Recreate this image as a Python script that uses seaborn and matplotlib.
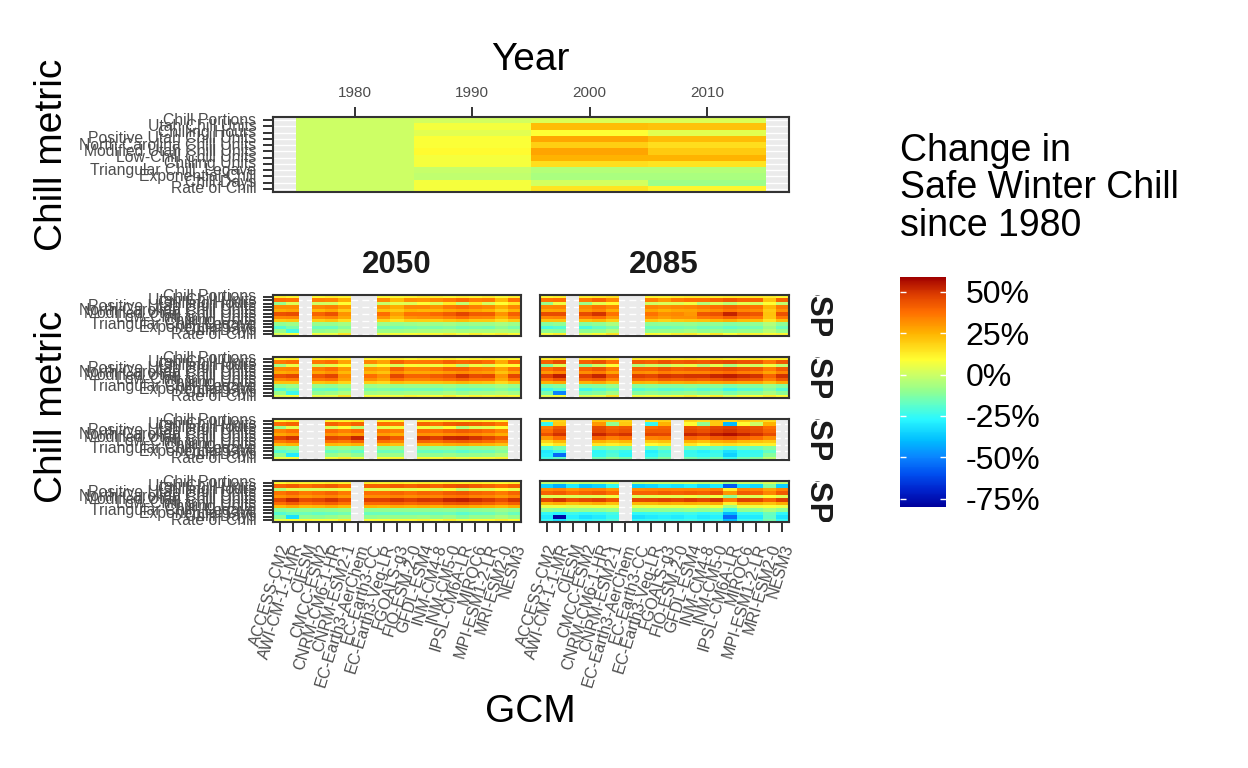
import numpy as np
import pandas as pd
import matplotlib
matplotlib.use("Agg")
import matplotlib.pyplot as plt
import seaborn as sns
from matplotlib.colors import LinearSegmentedColormap, Normalize
from matplotlib.cm import ScalarMappable
from matplotlib.transforms import ScaledTranslation

plt.rcParams['font.family'] = ['Liberation Sans', 'DejaVu Sans']

N = np.nan

metrics = ["Chill Portions", "Utah Chill Units", "Chilling Hours",
           "Positive Utah Chill Units", "North Carolina Chill Units",
           "Modified Utah Chill Units", "Low-Chill Chill Units", "Chilling Units",
           "Triangular Chill_Legave", "Exponential Chill", "Chill Days",
           "Rate of Chill"]

gcms = ["ACCESS-CM2", "AWI-CM-1-1-MR", "CIESM", "CMCC-ESM2", "CNRM-CM6-1-HR",
        "CNRM-ESM2-1", "EC-Earth3-AerChem", "EC-Earth3-CC", "EC-Earth3-Veg-LR",
        "FGOALS-g3", "FIO-ESM-2-0", "GFDL-ESM4", "INM-CM4-8", "INM-CM5-0",
        "IPSL-CM6A-LR", "MIROC6", "MPI-ESM1-2-LR", "MRI-ESM2-0", "NESM3"]

hist_years = [1980, 1990, 2000, 2010]
hist_1980 = [0, 0, 0, 0, 0, 0, 0, 0, 0, 0, 0, 0]
hist_1990 = [1, 7, 4, 8, 8, 10, 7, 7, -1, -2, 7, 7]
hist_2000 = [3, 23, 9, 27, 19, 28, 25, 16, -4, -6, 1, 15]
hist_2010 = [3, 22, 4, 23, 16, 20, 25, 15, -4, -6, -8, 11]

scenarios = ["SSP126", "SSP245", "SSP370", "SSP585"]
periods = ["2050", "2085"]

ssp126_2050 = [
    [12, 10, N, 9, 11, 10, N, N, 9, 8, 10, 12, 11, 9, 11, 10, 12, 8, 11],
    [38, 37, N, 35, 34, 26, N, N, 33, 24, 32, 31, 33, 36, 39, 35, 36, 24, 37],
    [-9, 3, N, 0, 1, 9, N, N, -1, 4, 3, 8, 3, 13, -2, 14, 1, 9, 14],
    [32, 32, N, 33, 35, 29, N, N, 30, 26, 33, 33, 31, 36, 38, 35, 33, 26, 33],
    [26, 28, N, 24, 27, 20, N, N, 22, 20, 25, 24, 24, 27, 29, 27, 25, 19, 25],
    [44, 45, N, 40, 44, 31, N, N, 38, 29, 37, 37, 39, 42, 47, 42, 42, 31, 41],
    [33, 34, N, 32, 34, 27, N, N, 31, 24, 31, 32, 32, 35, 38, 34, 33, 25, 34],
    [20, 21, N, 19, 21, 16, N, N, 18, 15, 19, 19, 19, 21, 23, 20, 20, 16, 20],
    [-10, -8, N, -9, -9, -7, N, N, -8, -9, -8, -7, -8, -7, -9, -8, -8, -6, -8],
    [-20, -14, N, -16, -17, -12, N, N, -15, -15, -14, -13, -14, -13, -15, -14, -15, -11, -14],
    [-9, -22, N, -10, -8, -4, N, N, -8, -8, -7, -6, -6, -5, -7, -6, -6, -4, -6],
    [4, 9, N, 7, 6, 14, N, N, 6, 8, 9, 10, 10, 12, 8, 12, 10, 12, 10],
]
ssp126_2085 = [
    [10, 11, N, 11, 12, 14, N, N, 10, 10, 11, 12, 12, 11, 12, 12, 12, 12, 10],
    [37, 38, N, 36, 40, 33, N, N, 35, 30, 36, 38, 38, 40, 43, 40, 40, 22, 40],
    [-9, 6, N, -8, 4, 10, N, N, 0, 2, 3, 6, -4, 2, -3, 4, 1, 9, -2],
    [33, 34, N, 33, 37, 33, N, N, 34, 32, 33, 34, 36, 38, 40, 38, 37, 24, 36],
    [27, 28, N, 30, 33, 26, N, N, 28, 25, 27, 28, 30, 32, 36, 33, 32, 20, 31],
    [45, 45, N, 45, 50, 37, N, N, 37, 32, 33, 30, 43, 44, 53, 44, 43, 22, 44],
    [33, 34, N, 36, 38, 30, N, N, 32, 29, 31, 31, 36, 37, 41, 37, 36, 21, 36],
    [22, 22, N, 22, 24, 19, N, N, 20, 18, 20, 21, 22, 24, 26, 23, 23, 15, 23],
    [-12, -10, N, -12, -10, -6, N, N, -11, -10, -10, -9, -11, -10, -12, -11, -10, -4, -11],
    [-22, -20, N, -22, -18, -14, N, N, -16, -16, -15, -14, -16, -15, -18, -16, -15, -8, -16],
    [-10, -12, N, -11, -10, -5, N, N, -10, -9, -9, -7, -10, -9, -11, -9, -9, -3, -9],
    [8, 12, N, 5, 10, 15, N, N, 10, 9, 12, 13, 10, 14, 9, 12, 11, 10, 11],
]
ssp245_2050 = [
    [10, 11, N, 11, 12, 11, N, 10, 11, 12, 10, 12, 11, 12, 10, 11, 12, 11, 10],
    [36, 38, N, 36, 38, 28, N, 33, 28, 40, 36, 36, 37, 41, 39, 40, 38, 26, 39],
    [-7, 5, N, 0, 4, 9, N, 3, 9, 2, 8, 7, 6, 12, -2, 6, 3, 10, 9],
    [33, 34, N, 35, 38, 30, N, 30, 28, 40, 34, 34, 36, 40, 40, 36, 35, 28, 36],
    [26, 28, N, 28, 31, 24, N, 24, 22, 32, 27, 27, 28, 30, 32, 30, 29, 22, 28],
    [44, 46, N, 43, 47, 32, N, 38, 32, 46, 40, 40, 42, 44, 50, 45, 46, 31, 46],
    [34, 36, N, 36, 38, 29, N, 32, 28, 38, 34, 34, 36, 38, 40, 37, 37, 27, 37],
    [22, 22, N, 21, 23, 18, N, 19, 17, 23, 21, 21, 22, 23, 25, 23, 22, 17, 22],
    [-10, -8, N, -9, -10, -7, N, -8, -7, -9, -8, -8, -9, -8, -10, -9, -9, -7, -9],
    [-20, -15, N, -17, -18, -13, N, -14, -13, -16, -15, -15, -16, -14, -17, -16, -15, -12, -15],
    [-8, -24, N, -10, -8, -5, N, -7, -6, -8, -7, -7, -8, -6, -9, -7, -7, -5, -7],
    [5, 9, N, 6, 6, 14, N, 8, 9, 7, 11, 10, 9, 12, 8, 11, 10, 11, 10],
]
ssp245_2085 = [
    [12, 13, N, 12, 13, 12, N, 12, 12, 13, 12, 13, 12, 13, 11, 12, 13, 12, 12],
    [40, 45, N, 41, 44, 37, N, 42, 41, 44, 42, 43, 42, 45, 46, 44, 43, 36, 43],
    [-12, 2, N, -10, 0, 8, N, -4, 0, -2, 3, 5, -3, 4, -6, 3, 0, 6, -2],
    [38, 42, N, 40, 43, 36, N, 40, 40, 43, 41, 42, 42, 44, 45, 43, 42, 35, 42],
    [30, 34, N, 32, 35, 28, N, 32, 31, 35, 33, 34, 34, 36, 38, 35, 34, 28, 34],
    [48, 54, N, 48, 52, 42, N, 48, 46, 50, 49, 50, 50, 52, 54, 51, 50, 40, 50],
    [38, 43, N, 40, 42, 35, N, 40, 39, 42, 41, 42, 41, 43, 45, 43, 42, 35, 42],
    [25, 27, N, 25, 27, 22, N, 25, 24, 27, 26, 27, 26, 28, 29, 27, 27, 22, 27],
    [-14, -12, N, -13, -12, -9, N, -12, -11, -12, -12, -11, -12, -11, -14, -12, -12, -8, -12],
    [-24, -20, N, -24, -20, -16, N, -20, -18, -20, -19, -18, -20, -18, -24, -20, -19, -13, -20],
    [-14, -50, N, -14, -12, -7, N, -12, -10, -12, -11, -9, -12, -10, -14, -11, -11, -6, -11],
    [5, 8, N, 4, 6, 14, N, 7, 8, 7, 10, 12, 8, 12, 4, 10, 9, 12, 9],
]
ssp370_2050 = [
    [10, 12, N, N, 11, 11, 12, N, 11, 10, N, 12, 11, 12, 11, 12, 11, 10, N],
    [38, 40, N, N, 40, 37, 40, N, 38, 36, N, 40, 38, 42, 43, 42, 40, 36, N],
    [-8, 4, N, N, 2, 8, -2, N, 4, 6, N, 6, 3, 8, -4, 2, 4, 8, N],
    [34, 37, N, N, 38, 35, 38, N, 36, 34, N, 38, 37, 40, 42, 40, 38, 33, N],
    [27, 30, N, N, 31, 28, 30, N, 29, 26, N, 31, 30, 32, 34, 32, 30, 26, N],
    [46, 50, N, N, 47, 45, 52, N, 47, 42, N, 50, 48, 52, 53, 50, 47, 42, N],
    [36, 39, N, N, 38, 36, 40, N, 38, 34, N, 40, 38, 41, 42, 40, 38, 34, N],
    [23, 25, N, N, 24, 23, 25, N, 24, 22, N, 25, 24, 26, 27, 25, 24, 22, N],
    [-12, -10, N, N, -10, -9, -11, N, -10, -9, N, -11, -10, -10, -12, -11, -10, -8, N],
    [-20, -16, N, N, -17, -14, -18, N, -16, -15, N, -17, -18, -16, -19, -17, -16, -12, N],
    [-10, -30, N, N, -9, -6, -10, N, -8, -8, N, -9, -10, -8, -10, -9, -8, -5, N],
    [6, 8, N, N, 8, 12, 6, N, 9, 10, N, 10, 9, 11, 7, 10, 10, 11, N],
]
ssp370_2085 = [
    [14, 18, N, N, 20, 18, 18, N, 16, 18, N, 18, 16, 20, 18, 20, 18, 16, N],
    [-25, 20, N, N, 30, -10, 20, N, -25, 25, N, 10, -10, 20, -40, 10, 0, 25, N],
    [35, 42, N, N, 45, 40, 42, N, 38, 40, N, 44, 42, 46, 48, 45, 44, 38, N],
    [38, 45, N, N, 46, 42, 44, N, 42, 42, N, 46, 44, 48, 50, 47, 45, 40, N],
    [44, 50, N, N, 52, 48, 50, N, 47, 46, N, 52, 50, 54, 56, 53, 50, 45, N],
    [30, 38, N, N, 40, 35, 38, N, 34, 35, N, 40, 38, 42, 44, 40, 38, 32, N],
    [18, 24, N, N, 25, 22, 24, N, 20, 22, N, 25, 22, 26, 28, 24, 22, 20, N],
    [8, 14, N, N, 14, 12, 14, N, 10, 12, N, 14, 10, 15, 16, 14, 12, 12, N],
    [-20, -15, N, N, -16, -14, -15, N, -18, -14, N, -16, -18, -16, -20, -17, -16, -12, N],
    [-30, -24, N, N, -26, -22, -25, N, -28, -22, N, -25, -28, -25, -32, -26, -25, -18, N],
    [-28, -55, N, N, -25, -20, -26, N, -26, -20, N, -24, -26, -23, -35, -25, -24, -12, N],
    [-22, -18, N, N, -15, -10, -14, N, -18, -12, N, -14, -18, -14, -24, -15, -12, -2, N],
]
ssp585_2050 = [
    [10, 12, 11, 11, 12, 11, N, 12, 11, 12, 11, 12, 11, 12, 11, 12, 11, 10, 11],
    [40, 42, 38, 40, 42, 38, N, 40, 40, 42, 40, 42, 40, 43, 44, 42, 40, 38, 41],
    [-4, 4, 2, 3, 4, 6, N, 3, 4, 5, 4, 6, 3, 7, -2, 4, 4, 8, 5],
    [37, 40, 36, 38, 40, 36, N, 38, 38, 40, 38, 40, 39, 42, 43, 40, 39, 36, 40],
    [31, 34, 30, 32, 34, 30, N, 32, 32, 34, 32, 34, 33, 36, 37, 34, 33, 30, 34],
    [47, 52, 45, 47, 50, 45, N, 48, 48, 50, 48, 50, 49, 53, 54, 51, 49, 45, 50],
    [38, 42, 37, 39, 41, 37, N, 39, 39, 41, 39, 41, 40, 43, 44, 42, 40, 37, 41],
    [24, 27, 23, 24, 26, 23, N, 25, 24, 26, 25, 26, 25, 27, 28, 26, 25, 23, 26],
    [-12, -10, -10, -11, -10, -9, N, -10, -10, -10, -10, -10, -11, -10, -12, -11, -10, -8, -10],
    [-20, -17, -16, -18, -17, -15, N, -17, -17, -17, -16, -16, -17, -16, -19, -17, -16, -13, -17],
    [-12, -32, -10, -11, -9, -7, N, -10, -9, -9, -9, -8, -10, -8, -12, -9, -9, -6, -9],
    [6, 8, 10, 8, 8, 12, N, 9, 9, 10, 10, 11, 9, 12, 7, 10, 10, 12, 10],
]
ssp585_2085 = [
    [-2, -4, 0, -2, -1, 2, N, -2, 0, -1, 0, 1, -2, 0, -8, 0, -1, 4, -2],
    [-35, -42, -30, -38, -35, -25, N, -36, -34, -30, -32, -28, -34, -30, -58, -32, -34, -12, -36],
    [32, 34, 30, 33, 34, 30, N, 32, 33, 34, 33, 34, 33, 35, 12, 34, 33, 28, 34],
    [40, 42, 38, 40, 42, 38, N, 40, 40, 42, 41, 42, 41, 44, 30, 42, 41, 34, 42],
    [2, 4, 3, 2, 4, 6, N, 3, 4, 5, 4, 6, 3, 6, -10, 4, 3, 8, 4],
    [46, 50, 44, 46, 48, 43, N, 46, 47, 48, 47, 49, 47, 50, 36, 48, 47, 40, 48],
    [24, 26, 22, 24, 26, 22, N, 24, 24, 26, 25, 26, 25, 27, 12, 26, 25, 22, 26],
    [5, 6, 4, 5, 6, 6, N, 5, 6, 6, 6, 7, 5, 7, -6, 6, 6, 8, 6],
    [-10, -12, -9, -10, -10, -8, N, -10, -10, -10, -10, -9, -10, -9, -22, -10, -10, -6, -10],
    [-26, -28, -24, -26, -25, -22, N, -26, -25, -24, -25, -23, -26, -24, -40, -25, -25, -16, -26],
    [-30, -78, -28, -32, -30, -25, N, -32, -30, -28, -30, -27, -30, -28, -55, -30, -30, -18, -31],
    [-25, -32, -22, -26, -24, -20, N, -25, -24, -23, -24, -22, -25, -23, -40, -24, -24, -14, -25],
]

future = {
    ("SSP126", "2050"): ssp126_2050, ("SSP126", "2085"): ssp126_2085,
    ("SSP245", "2050"): ssp245_2050, ("SSP245", "2085"): ssp245_2085,
    ("SSP370", "2050"): ssp370_2050, ("SSP370", "2085"): ssp370_2085,
    ("SSP585", "2050"): ssp585_2050, ("SSP585", "2085"): ssp585_2085,
}

VMIN, VMAX = -80, 59
stops = [(-80, "#00009C"), (-70, "#0022CC"), (-60, "#0050F0"), (-50, "#0A84FF"),
         (-40, "#00BCFF"), (-27, "#2AF8FF"), (-18, "#60FFC8"), (-10, "#92FF90"),
         (0, "#CCFF66"), (9, "#FFFF33"), (25, "#FFB400"), (38, "#FF6E00"),
         (48, "#E04000"), (59, "#A00000")]
cmap = LinearSegmentedColormap.from_list(
    "chill", [((v - VMIN) / (VMAX - VMIN), c) for v, c in stops])

W, H = 1248, 768
fig = plt.figure(figsize=(W / 100, H / 100), dpi=100)
fig.patch.set_facecolor("white")


def ax_px(l, t, r, b):
    return fig.add_axes([l / W, 1 - b / H, (r - l) / W, (b - t) / H])


DARK = "#333333"
GREY = "#4D4D4D"
TICKLEN = 7
TICKW = 1.4


def style_panel(ax, nrows, dashed, show_y):
    ax.set_facecolor("#EBEBEB")
    for i in range(nrows):
        if dashed and i % 2 == 0:
            continue
        ax.axhline(i + 0.5, color="white", lw=1.0, zorder=0.5,
                   ls=(0, (5, 3)) if dashed else "-")
    for s in ax.spines.values():
        s.set_visible(True)
        s.set_color(DARK)
        s.set_linewidth(1.5)
    ax.set_yticks(np.arange(nrows) + 0.5)
    if show_y:
        ax.set_yticklabels(metrics, fontsize=11.3, color=GREY, rotation=0)
        ax.tick_params(axis="y", left=True, length=TICKLEN, width=TICKW, color=DARK,
                       pad=5, labelsize=11.3, labelcolor=GREY)
    else:
        ax.set_yticklabels([])
        ax.tick_params(axis="y", left=False, length=0)
    ax.set_xlabel("")
    ax.set_ylabel("")


# ---- historic panel ----
hist_df = pd.DataFrame({y: v for y, v in zip(hist_years,
                        [hist_1980, hist_1990, hist_2000, hist_2010])}, index=metrics)
axh = ax_px(273, 117, 789, 192)
sns.heatmap(hist_df, ax=axh, cmap=cmap, vmin=VMIN, vmax=VMAX, cbar=False)
style_panel(axh, len(metrics), dashed=False, show_y=True)
axh.set_xlim(-0.2, 4.2)
axh.xaxis.tick_top()
axh.set_xticks(np.arange(len(hist_years)) + 0.5)
axh.set_xticklabels([str(y) for y in hist_years], rotation=0)
axh.tick_params(axis="x", top=True, bottom=False, length=TICKLEN, width=TICKW,
                color=DARK, pad=5, labelsize=11, labelcolor=GREY)

# ---- future panels ----
row_tops = [295, 357, 419, 481]
col_lr = [(273, 521), (540, 789)]
for r, scen in enumerate(scenarios):
    for c, per in enumerate(periods):
        df = pd.DataFrame(future[(scen, per)], index=metrics, columns=gcms)
        l, rr = col_lr[c]
        ax = ax_px(l, row_tops[r], rr, row_tops[r] + 41)
        sns.heatmap(df, ax=ax, cmap=cmap, vmin=VMIN, vmax=VMAX, cbar=False)
        style_panel(ax, len(metrics), dashed=True, show_y=(c == 0))
        ax.set_xticks(np.arange(len(gcms)) + 0.5)
        if r == len(scenarios) - 1:
            ax.set_xticklabels(gcms)
            ax.tick_params(axis="x", bottom=True, length=TICKLEN, width=TICKW,
                           color=DARK, pad=9, labelsize=11.6, labelcolor=GREY)
            for lab in ax.get_xticklabels():
                lab.set_rotation(73)
                lab.set_ha("right")
                lab.set_va("center")
                lab.set_rotation_mode("anchor")
                lab.set_transform(lab.get_transform() +
                                  ScaledTranslation(6 / 100, 0, fig.dpi_scale_trans))
        else:
            ax.set_xticklabels([])
            ax.tick_params(axis="x", bottom=False, length=0)
    # clipped row strip label
    t, b = row_tops[r], row_tops[r] + 41
    axs = ax_px(797, t, 845, b)
    axs.axis("off")
    axs.set_xlim(0, 48)
    axs.set_ylim(41, 0)
    axs.text(20, -20, scen, rotation=270, ha="center", va="top",
             fontsize=22.5, fontweight="bold", color="#1A1A1A", clip_on=True)

# column strip labels
fig.text(397 / W, 1 - 265 / H, "2050", fontsize=22.5, fontweight="bold",
         ha="center", va="center", color="#1A1A1A")
fig.text(664 / W, 1 - 265 / H, "2085", fontsize=22.5, fontweight="bold",
         ha="center", va="center", color="#1A1A1A")

# axis titles
fig.text(530 / W, 1 - 60 / H, "Year", fontsize=28, ha="center", va="center")
fig.text(52 / W, 1 - 155 / H, "Chill metric", fontsize=28, rotation=90,
         ha="center", va="center")
fig.text(52 / W, 1 - 407 / H, "Chill metric", fontsize=28, rotation=90,
         ha="center", va="center")
fig.text(530 / W, 1 - 712 / H, "GCM", fontsize=28, ha="center", va="center")

# ---- legend ----
cax = ax_px(900, 277, 946, 507)
cb = fig.colorbar(ScalarMappable(norm=Normalize(VMIN, VMAX), cmap=cmap), cax=cax)
cb.outline.set_visible(False)
ticks = [-75, -50, -25, 0, 25, 50]
cb.set_ticks(ticks)
cb.set_ticklabels([f"{t}%" for t in ticks])
cax.yaxis.set_ticks_position("both")
cax.tick_params(axis="y", direction="in", length=4, width=1, color="white",
                left=True, right=True, labelleft=False, labelright=True,
                labelsize=23, labelcolor="black", pad=14)
cax.minorticks_off()
fig.text(900 / W, 1 - 133 / H, "Change in\nSafe Winter Chill\nsince 1980",
         fontsize=27, ha="left", va="top", linespacing=1.05)

fig.savefig("out.png", dpi=100, facecolor="white")
